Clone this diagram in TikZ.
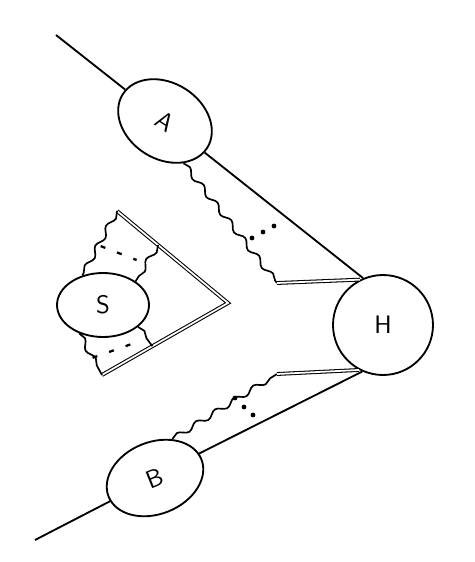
\documentclass[tikz,border=0pt]{standalone}
\usepackage{tikz}
\usetikzlibrary{shapes.geometric, decorations.pathmorphing, calc}

\begin{document}
\begin{tikzpicture}[x=0.02cm, y=-0.02cm, font=\sffamily\Large,
            blob/.style={draw, ellipse, line width=1.05pt, inner sep=0pt},
            lin/.style={line width=1.05pt},
            dbl/.style={double, line width=0.6pt, double distance=1pt},
            wig/.style={line width=0.95pt, decorate,
                        decoration={snake, segment length=0.45cm, amplitude=0.055cm}},
            dsh/.style={line width=1.3pt, dash pattern=on 0.1cm off 0.25cm}]
            \useasboundingbox (0,0) rectangle (474,562);
            \node[blob, minimum width=2cm, minimum height=1.52cm, rotate=-32.5] (a)
              at (165,121) {A};
            \node[blob, minimum width=2cm, minimum height=1.44cm, rotate=22] (b)
              at (155,478) {B};
            \node[blob, minimum width=1.84cm, minimum height=1.28cm] (s)
              at (103,305) {S};
            \node[draw, circle, line width=1.05pt, minimum size=2cm] (h)
              at (383,325) {H};
            \coordinate (ta) at (56,35);
            \coordinate (tb) at (35,540);
            \coordinate (cu) at (277,283);
            \coordinate (cl) at (277,374);
            \coordinate (p1) at (117,211);
            \coordinate (p2) at (228,303);
            \coordinate (p3) at (102,375);
            \draw[lin] (ta) -- (a);
            \draw[lin] (a.-6) -- (h.113);
            \draw[wig] (a.-34) -- (cu);
            \draw[dbl] (cu) -- (h.117);
            \draw[lin] (tb) -- (b);
            \draw[lin] (b.7) -- (h.-114);
            \draw[wig] (b.44) -- (cl);
            \draw[dbl] (cl) -- (h.-118);
            \draw[dbl] (p1) -- (p2) -- (p3);
            \draw[wig] (p1) -- (s.125);
            \draw[wig] ($(p1)!0.37!(p2)$) -- (s.36);
            \draw[wig] (s.-130) -- (p3);
            \draw[wig] (s.-32) -- ($(p2)!0.6!(p3)$);
            \draw[dsh] (100.7,246.1) -- (136.6,260);
            \draw[dsh] (92.6,357.8) -- (131.3,344.1);
            \foreach \p in {(252,238),(263,232),(274,226),(235,398),(244,407),(253,415)}
              \fill \p circle (0.048cm);
          \end{tikzpicture}
\end{document}
